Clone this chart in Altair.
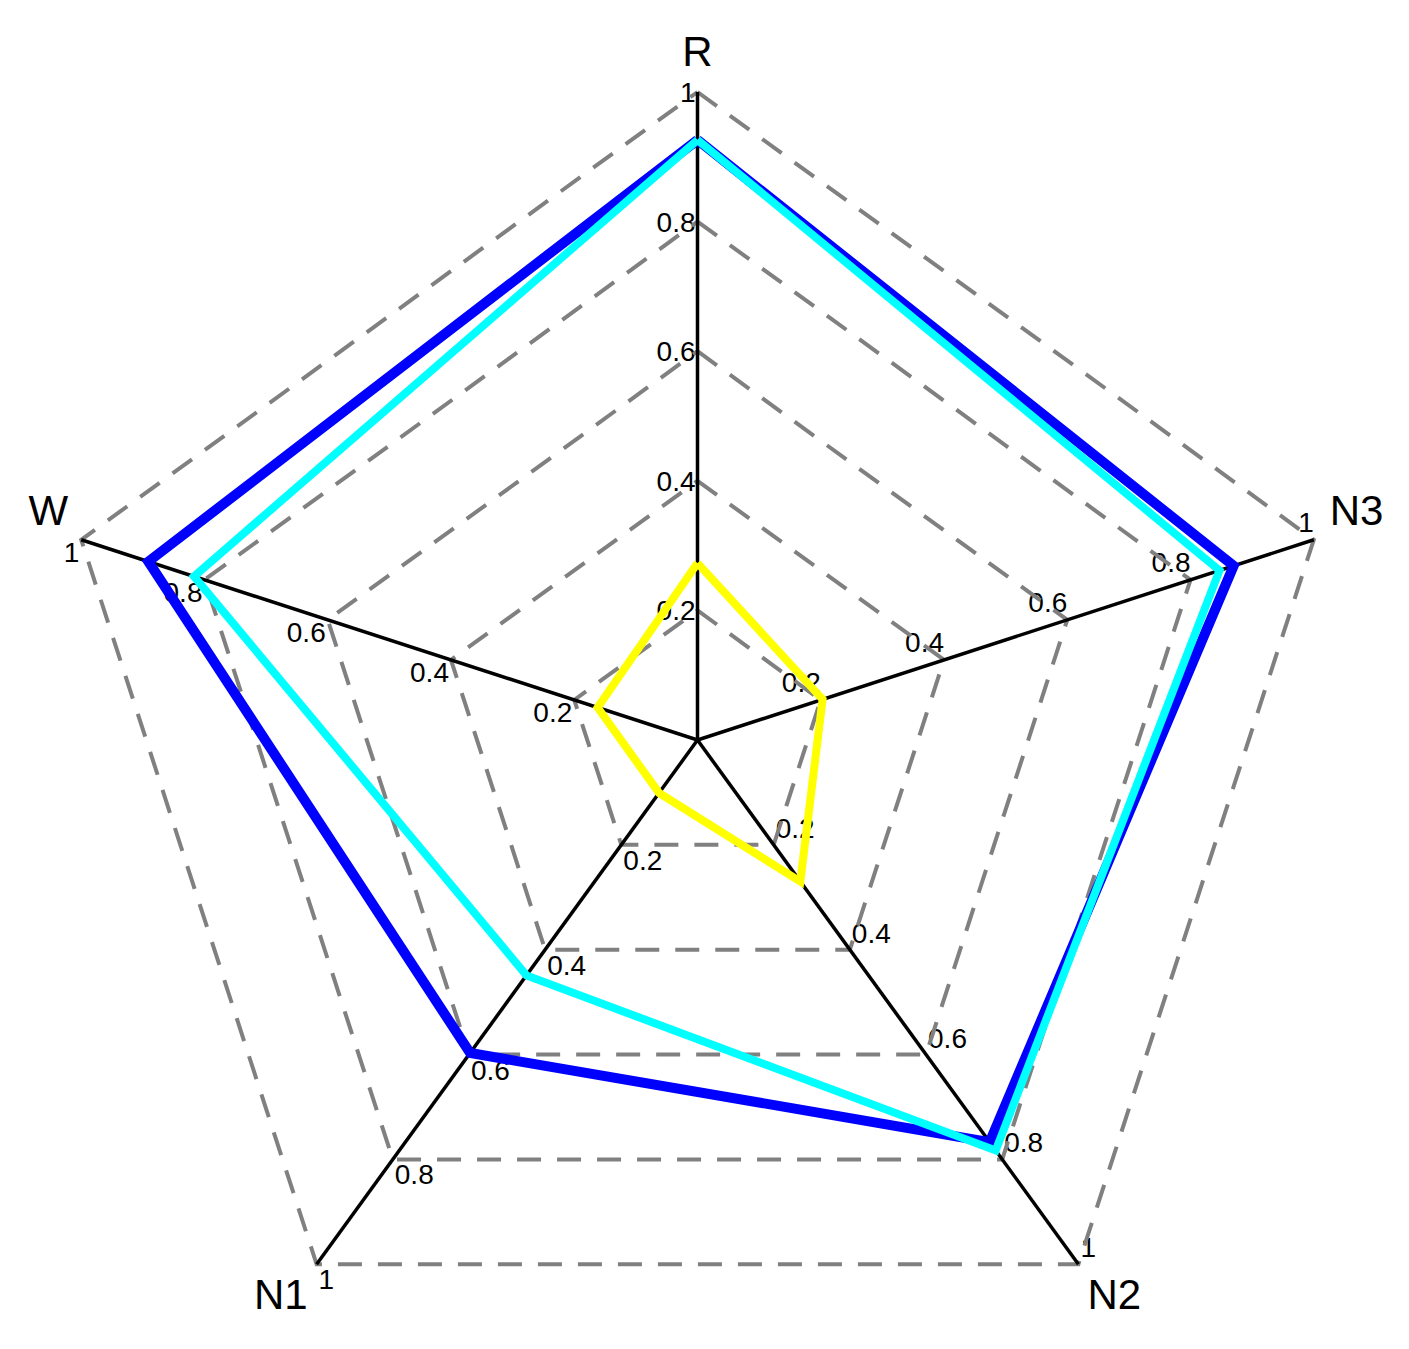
import altair as alt
import pandas as pd

# ---------------- data ----------------
axis_names = ["R", "N3", "N2", "N1", "W"]
levels = [0.2, 0.4, 0.6, 0.8, 1.0]
level_labels = ["0.2", "0.4", "0.6", "0.8", "1"]
series_names = ["Series 1", "Series 2", "Series 3"]
series1_vals = [0.926, 0.870, 0.767, 0.597, 0.891]
series2_vals = [0.926, 0.847, 0.783, 0.449, 0.817]
series3_vals = [0.273, 0.203, 0.270, 0.101, 0.162]

# ---------------- styling / layout ----------------
series_colors = ["#0000ff", "#00ffff", "#ffff00"]
series_widths = [10, 8, 8]
FONT = "Liberation Sans"
W, H = 1393, 1333
SCALE = 648.0           # pixels per unit radius
CX, CY = 689.5, 732.0   # centre inside the plot area
xdom = [-CX / SCALE, (W - CX) / SCALE]
ydom = [(CY - H) / SCALE, CY / SCALE]

n = len(axis_names)
angle_of = {name: 90 - 72 * i for i, name in enumerate(axis_names)}

series_vals = [series1_vals, series2_vals, series3_vals]
rows = []
for s, vals in zip(series_names, series_vals):
    for k in range(n + 1):
        i = k % n
        rows.append({"series": s, "axis": axis_names[i], "value": vals[i],
                     "order": k, "angle": angle_of[axis_names[i]]})
series_df = pd.DataFrame(rows)

grid_rows = []
for lv in levels:
    for k in range(n + 1):
        i = k % n
        grid_rows.append({"level": lv, "value": lv, "order": k,
                          "angle": angle_of[axis_names[i]]})
grid_df = pd.DataFrame(grid_rows)

spoke_rows = []
for name in axis_names:
    for v in [0.0, 1.0]:
        spoke_rows.append({"axis": name, "value": v, "angle": angle_of[name]})
spoke_df = pd.DataFrame(spoke_rows)

tick_rows = []
for name in axis_names:
    for lv, lab in zip(levels, level_labels):
        tick_rows.append({"axis": name, "value": lv, "label": lab,
                          "angle": angle_of[name]})
tick_df = pd.DataFrame(tick_rows)

label_df = pd.DataFrame({"axis": axis_names, "value": [1.0] * n,
                         "angle": [angle_of[a] for a in axis_names]})

calc = dict(x="datum.value * cos(datum.angle * PI / 180)",
            y="datum.value * sin(datum.angle * PI / 180)")
X = alt.X("x:Q", scale=alt.Scale(domain=xdom, nice=False, zero=False), axis=None)
Y = alt.Y("y:Q", scale=alt.Scale(domain=ydom, nice=False, zero=False), axis=None)

layers = []

# tick labels
tick_style = {
    "R": dict(align="right", dx=-2, dy=10),
    "N3": dict(align="right", dx=0, dy=-8),
    "N2": dict(align="left", dx=2, dy=-7),
    "N1": dict(align="left", dx=2, dy=25),
    "W": dict(align="right", dx=-2, dy=22),
}
for name in axis_names:
    st = tick_style[name]
    layers.append(
        alt.Chart(tick_df).transform_filter(alt.datum.axis == name)
        .transform_calculate(**calc)
        .mark_text(font=FONT, fontSize=28, color="black", baseline="alphabetic",
                   align=st["align"], dx=st["dx"], dy=st["dy"])
        .encode(x=X, y=Y, text="label:N")
    )

# grid pentagons
layers.append(
    alt.Chart(grid_df).transform_calculate(**calc)
    .mark_line(color="#808080", strokeWidth=4, strokeDash=[24, 16])
    .encode(x=X, y=Y, detail="level:N", order="order:Q")
)

# spokes
layers.append(
    alt.Chart(spoke_df).transform_calculate(**calc)
    .mark_line(color="black", strokeWidth=3.5)
    .encode(x=X, y=Y, detail="axis:N", order="value:Q")
)

# series
for s, c, w in zip(series_names, series_colors, series_widths):
    layers.append(
        alt.Chart(series_df).transform_filter(alt.datum.series == s)
        .transform_calculate(**calc)
        .mark_line(color=c, strokeWidth=w, strokeJoin="miter")
        .encode(x=X, y=Y, order="order:Q")
    )

# axis names
label_style = {
    "R": dict(align="center", dx=0, dy=-26),
    "N3": dict(align="left", dx=16, dy=-15),
    "N2": dict(align="left", dx=9, dy=45),
    "N1": dict(align="right", dx=-9, dy=45),
    "W": dict(align="right", dx=-13, dy=-15),
}
for name in axis_names:
    st = label_style[name]
    layers.append(
        alt.Chart(label_df).transform_filter(alt.datum.axis == name)
        .transform_calculate(**calc)
        .mark_text(font=FONT, fontSize=42, color="black", baseline="alphabetic",
                   align=st["align"], dx=st["dx"], dy=st["dy"])
        .encode(x=X, y=Y, text="axis:N")
    )

chart = (
    alt.layer(*layers)
    .properties(width=W, height=H, padding=0, background="white")
    .configure_view(stroke=None)
)

chart.save("out.html", embed_options={"renderer": "svg", "actions": False})
